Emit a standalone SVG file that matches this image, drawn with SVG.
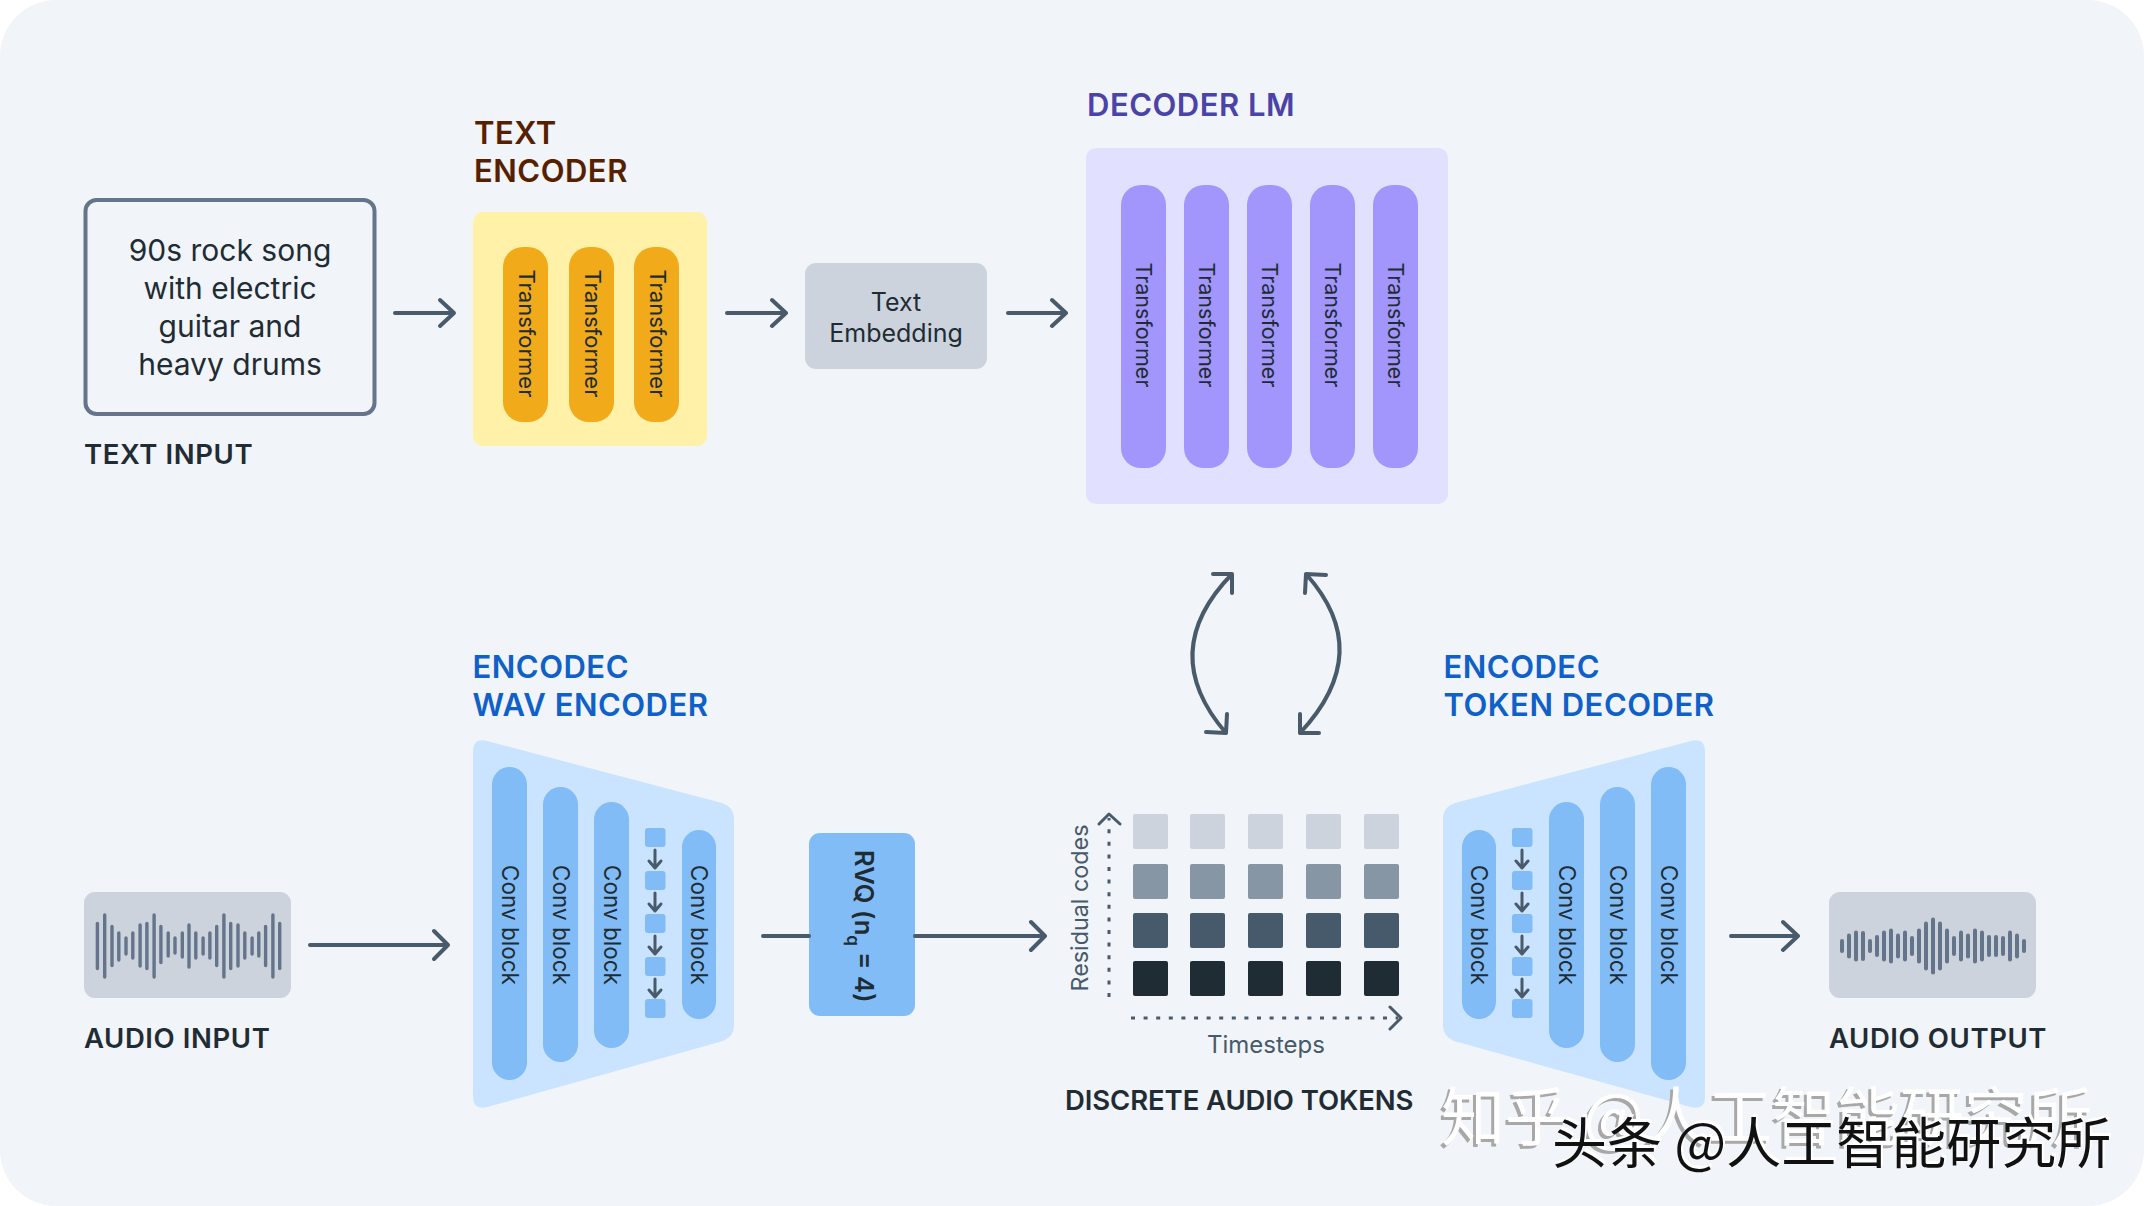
<svg xmlns="http://www.w3.org/2000/svg" width="2144" height="1206" viewBox="0 0 2144 1206">
<defs>
<style>
text{font-family:"Inter","Noto Sans",sans-serif}
.t{font-weight:600;font-size:27.5px;fill:#1f2c34;letter-spacing:.6px}
.h{font-weight:600;font-size:31px;letter-spacing:.5px}
.p{font-size:30px;fill:#1f2c34;text-anchor:middle}
.tf{font-size:22px;fill:#1f2c34;text-anchor:middle}
.tf2{font-size:21.500px;fill:#1f2c34;text-anchor:middle}
.cb{font-size:22.500px;fill:#1f2c34;text-anchor:middle}
.gr{fill:#ccd3dc}
.pill-y{fill:#f0aa1a}
.pill-v{fill:#a295fb}
.pill-b{fill:#82bcf6}
.c{fill:none;stroke:#495a6b;stroke-width:4;stroke-linecap:round;stroke-linejoin:round}
.s{fill:none;stroke:#495a6b;stroke-width:3;stroke-linecap:round;stroke-linejoin:round}
.d{fill:none;stroke:#495a6b;stroke-width:3;stroke-dasharray:4 8.6}
.w{stroke:#64748a;stroke-width:3.400;stroke-linecap:round}
.w2{stroke:#64748a;stroke-width:4;stroke-linecap:round}
.m{font-family:"Noto Sans CJK SC",sans-serif}
</style>
</defs>
<rect width="2144" height="1206" fill="#ffffff"/>
<rect width="2144" height="1206" rx="56" fill="#f1f4f8"/>

<g id="text-input">
<rect x="85.500" y="200" width="289" height="214" rx="11" fill="none" stroke="#64748a" stroke-width="4"/>
<text class="p" x="230" y="261">90s rock song</text>
<text class="p" x="230" y="299">with electric</text>
<text class="p" x="230" y="337">guitar and</text>
<text class="p" x="230" y="375">heavy drums</text>
<text class="t" x="84" y="464">TEXT INPUT</text>
</g>

<g id="text-encoder">
<text class="h" x="474" y="144" fill="#561f00">TEXT</text>
<text class="h" x="474" y="182" fill="#561f00">ENCODER</text>
<rect x="473" y="212" width="234" height="234" rx="10" fill="#fff1a8"/>
<rect class="pill-y" x="503" y="247" width="45" height="175" rx="20"/>
<rect class="pill-y" x="569" y="247" width="45" height="175" rx="20"/>
<rect class="pill-y" x="634" y="247" width="45" height="175" rx="20"/>
<text class="tf" transform="translate(526.500,333.500) rotate(90)" y="8">Transformer</text>
<text class="tf" transform="translate(592.500,333.500) rotate(90)" y="8">Transformer</text>
<text class="tf" transform="translate(657.500,333.500) rotate(90)" y="8">Transformer</text>
</g>

<g id="text-embedding">
<rect class="gr" x="805" y="263" width="182" height="106" rx="11"/>
<text x="896" y="311" font-size="25" fill="#1f2c34" text-anchor="middle">Text</text>
<text x="896" y="342" font-size="25" fill="#1f2c34" text-anchor="middle">Embedding</text>
</g>

<g id="decoder-lm">
<text class="h" x="1087" y="116" fill="#4a43a8">DECODER LM</text>
<rect x="1086" y="148" width="362" height="356" rx="10" fill="#e2e0ff"/>
<rect class="pill-v" x="1121" y="185" width="45" height="283" rx="20"/>
<rect class="pill-v" x="1184" y="185" width="45" height="283" rx="20"/>
<rect class="pill-v" x="1247" y="185" width="45" height="283" rx="20"/>
<rect class="pill-v" x="1310" y="185" width="45" height="283" rx="20"/>
<rect class="pill-v" x="1373" y="185" width="45" height="283" rx="20"/>
<text class="tf2" transform="translate(1144,325) rotate(90)" y="8">Transformer</text>
<text class="tf2" transform="translate(1207,325) rotate(90)" y="8">Transformer</text>
<text class="tf2" transform="translate(1270,325) rotate(90)" y="8">Transformer</text>
<text class="tf2" transform="translate(1333,325) rotate(90)" y="8">Transformer</text>
<text class="tf2" transform="translate(1396,325) rotate(90)" y="8">Transformer</text>
</g>

<g id="audio-input">
<rect class="gr" x="84" y="892" width="207" height="106" rx="11"/>
<g class="w">
<line x1="97.400" y1="923.500" x2="97.400" y2="968.500"/><line x1="104.700" y1="915" x2="104.700" y2="977"/><line x1="112" y1="926.500" x2="112" y2="965.500"/><line x1="118.800" y1="933" x2="118.800" y2="960"/><line x1="126" y1="938" x2="126" y2="954"/><line x1="132.800" y1="933" x2="132.800" y2="958"/><line x1="140.100" y1="925" x2="140.100" y2="966"/><line x1="146.900" y1="923.500" x2="146.900" y2="968.500"/><line x1="154.100" y1="915" x2="154.100" y2="977"/><line x1="160.900" y1="926.500" x2="160.900" y2="962.500"/><line x1="168.200" y1="933" x2="168.200" y2="956"/><line x1="175" y1="938" x2="175" y2="953"/><line x1="182.300" y1="933" x2="182.300" y2="957"/><line x1="189" y1="925" x2="189" y2="967"/><line x1="195.800" y1="933" x2="195.800" y2="958"/><line x1="203.100" y1="938" x2="203.100" y2="954"/><line x1="209.900" y1="933" x2="209.900" y2="958"/><line x1="216.700" y1="926.500" x2="216.700" y2="965.500"/><line x1="223.900" y1="915" x2="223.900" y2="977"/><line x1="230.700" y1="923.500" x2="230.700" y2="968.500"/><line x1="238" y1="925" x2="238" y2="966"/><line x1="244.800" y1="933" x2="244.800" y2="958"/><line x1="252.100" y1="938" x2="252.100" y2="954"/><line x1="258.800" y1="933" x2="258.800" y2="956"/><line x1="265.600" y1="926.500" x2="265.600" y2="965.500"/><line x1="272.900" y1="915" x2="272.900" y2="977"/><line x1="279.700" y1="923.500" x2="279.700" y2="968.500"/>
</g>
<text class="t" x="84" y="1048">AUDIO INPUT</text>
</g>

<g id="encodec-wav-encoder">
<text class="h" x="472.500" y="678" fill="#0f60c8">ENCODEC</text>
<text class="h" x="472.500" y="716" fill="#0f60c8">WAV ENCODER</text>
<path d="M473 752Q473 737 487 741L722 803Q734 807 734 819V1026Q734 1036 723 1041L491 1106Q473 1112 473 1097Z" fill="#cae4ff"/>
<rect class="pill-b" x="492" y="767" width="35" height="313" rx="17.500"/>
<rect class="pill-b" x="543" y="787" width="35" height="275" rx="17.500"/>
<rect class="pill-b" x="594" y="802" width="35" height="246" rx="17.500"/>
<rect class="pill-b" x="682" y="830" width="34" height="189" rx="17"/>
<rect class="pill-b" x="645" y="828" width="20.500" height="19" rx="3"/>
<rect class="pill-b" x="645" y="871" width="20.500" height="19" rx="3"/>
<rect class="pill-b" x="645" y="914" width="20.500" height="19" rx="3"/>
<rect class="pill-b" x="645" y="957" width="20.500" height="19" rx="3"/>
<rect class="pill-b" x="645" y="999" width="20.500" height="19" rx="3"/>
<path class="s" d="M655 850V868M649 861L655 868L661 861M655 893V911M649 904L655 911L661 904M655 936V954M649 947L655 954L661 947M655 979V997M649 990L655 997L661 990"/>
<text class="cb" transform="translate(509.500,925) rotate(90)" y="8">Conv block</text>
<text class="cb" transform="translate(560.500,925) rotate(90)" y="8">Conv block</text>
<text class="cb" transform="translate(611.500,925) rotate(90)" y="8">Conv block</text>
<text class="cb" transform="translate(699,925) rotate(90)" y="8">Conv block</text>
</g>

<g id="rvq">
<rect class="pill-b" x="809" y="833" width="106" height="183" rx="11"/>
<text transform="translate(855,850) rotate(90)" font-size="25.500" font-weight="600" fill="#1f2c34">RVQ (n<tspan font-size="17" dy="8">q</tspan><tspan dy="-8"> = 4)</tspan></text>
</g>

<g id="discrete-audio-tokens">
<g class="gr"><rect x="1133" y="814" width="35" height="35" rx="2"/><rect x="1190" y="814" width="35" height="35" rx="2"/><rect x="1248" y="814" width="35" height="35" rx="2"/><rect x="1306" y="814" width="35" height="35" rx="2"/><rect x="1364" y="814" width="35" height="35" rx="2"/></g>
<g fill="#8696a5"><rect x="1133" y="864" width="35" height="35" rx="2"/><rect x="1190" y="864" width="35" height="35" rx="2"/><rect x="1248" y="864" width="35" height="35" rx="2"/><rect x="1306" y="864" width="35" height="35" rx="2"/><rect x="1364" y="864" width="35" height="35" rx="2"/></g>
<g fill="#475a6b"><rect x="1133" y="913" width="35" height="35" rx="2"/><rect x="1190" y="913" width="35" height="35" rx="2"/><rect x="1248" y="913" width="35" height="35" rx="2"/><rect x="1306" y="913" width="35" height="35" rx="2"/><rect x="1364" y="913" width="35" height="35" rx="2"/></g>
<g fill="#1f2c34"><rect x="1133" y="961" width="35" height="35" rx="2"/><rect x="1190" y="961" width="35" height="35" rx="2"/><rect x="1248" y="961" width="35" height="35" rx="2"/><rect x="1306" y="961" width="35" height="35" rx="2"/><rect x="1364" y="961" width="35" height="35" rx="2"/></g>
<path class="d" d="M1109 997V818"/>
<path class="s" d="M1099 824L1109 814L1120 824"/>
<path class="d" d="M1131 1018H1398"/>
<path class="s" d="M1390 1007L1401 1018L1390 1029"/>
<text transform="translate(1088,908) rotate(-90)" font-size="23.300" fill="#475a6b" text-anchor="middle">Residual codes</text>
<text x="1266" y="1053" font-size="24" fill="#475a6b" text-anchor="middle">Timesteps</text>
<text class="t" x="1065" y="1110" style="letter-spacing:-.1px">DISCRETE AUDIO TOKENS</text>
</g>

<g id="encodec-token-decoder">
<text class="h" x="1443.500" y="678" fill="#0f60c8">ENCODEC</text>
<text class="h" x="1443.500" y="716" fill="#0f60c8">TOKEN DECODER</text>
<path d="M1705 752Q1705 737 1691 741L1455 803Q1443 807 1443 819V1026Q1443 1036 1454 1041L1687 1106Q1705 1112 1705 1097Z" fill="#cae4ff"/>
<rect class="pill-b" x="1462" y="830" width="34" height="189" rx="17"/>
<rect class="pill-b" x="1549" y="802" width="35" height="246" rx="17.500"/>
<rect class="pill-b" x="1600" y="787" width="35" height="275" rx="17.500"/>
<rect class="pill-b" x="1651" y="767" width="35" height="313" rx="17.500"/>
<rect class="pill-b" x="1512" y="828" width="20.500" height="19" rx="3"/>
<rect class="pill-b" x="1512" y="871" width="20.500" height="19" rx="3"/>
<rect class="pill-b" x="1512" y="914" width="20.500" height="19" rx="3"/>
<rect class="pill-b" x="1512" y="957" width="20.500" height="19" rx="3"/>
<rect class="pill-b" x="1512" y="999" width="20.500" height="19" rx="3"/>
<path class="s" d="M1522 850V868M1516 861L1522 868L1528 861M1522 893V911M1516 904L1522 911L1528 904M1522 936V954M1516 947L1522 954L1528 947M1522 979V997M1516 990L1522 997L1528 990"/>
<text class="cb" transform="translate(1479,925) rotate(90)" y="8">Conv block</text>
<text class="cb" transform="translate(1566.500,925) rotate(90)" y="8">Conv block</text>
<text class="cb" transform="translate(1617.500,925) rotate(90)" y="8">Conv block</text>
<text class="cb" transform="translate(1668.500,925) rotate(90)" y="8">Conv block</text>
</g>

<g id="audio-output">
<rect class="gr" x="1829" y="892" width="207" height="106" rx="11"/>
<g class="w2">
<line x1="1842" y1="941" x2="1842" y2="951"/><line x1="1849" y1="935.500" x2="1849" y2="956.500"/><line x1="1856" y1="932.500" x2="1856" y2="959.500"/><line x1="1863" y1="933" x2="1863" y2="959"/><line x1="1870" y1="941" x2="1870" y2="951"/><line x1="1877" y1="937" x2="1877" y2="955"/><line x1="1884" y1="932.500" x2="1884" y2="959.500"/><line x1="1891" y1="930.500" x2="1891" y2="961.500"/><line x1="1898" y1="935.500" x2="1898" y2="956.500"/><line x1="1905" y1="932.500" x2="1905" y2="959.500"/><line x1="1912" y1="938" x2="1912" y2="954"/><line x1="1919" y1="930.500" x2="1919" y2="961.500"/><line x1="1926" y1="923.500" x2="1926" y2="968.500"/><line x1="1933" y1="919.500" x2="1933" y2="972.500"/><line x1="1940" y1="923.500" x2="1940" y2="968.500"/><line x1="1947" y1="930.500" x2="1947" y2="961.500"/><line x1="1954" y1="938" x2="1954" y2="954"/><line x1="1961" y1="932.500" x2="1961" y2="959.500"/><line x1="1968" y1="935.500" x2="1968" y2="956.500"/><line x1="1975" y1="930.500" x2="1975" y2="961.500"/><line x1="1982" y1="932.500" x2="1982" y2="959.500"/><line x1="1989" y1="937" x2="1989" y2="955"/><line x1="1996" y1="937" x2="1996" y2="955"/><line x1="2003" y1="938" x2="2003" y2="954"/><line x1="2010" y1="932.500" x2="2010" y2="959.500"/><line x1="2017" y1="935.500" x2="2017" y2="956.500"/><line x1="2024" y1="941" x2="2024" y2="951"/>
</g>
<text class="t" x="1829" y="1048">AUDIO OUTPUT</text>
</g>

<g id="connectors">
<path class="c" d="M395 313H453M440 300L454 313L440 326"/>
<path class="c" d="M727 313H785M772 300L786 313L772 326"/>
<path class="c" d="M1008 313H1065M1052 300L1066 313L1052 326"/>
<path class="c" d="M310 945H447M434 931L448 945L434 959"/>
<path class="c" d="M763 936H809M915 936H1044M1031 922L1045 936L1031 950"/>
<path class="c" d="M1731 936H1797M1783 922L1798 936L1783 950"/>
<path class="c" d="M1232 574Q1156 652 1226 733M1213 574H1232V593M1206 732L1226 733L1227 714"/>
<path class="c" d="M1306 574Q1376 652 1300 733M1326 575L1306 574L1305 593M1319 733H1300V714"/>
</g>

<g id="watermark">
<text class="m" x="1438" y="1143" font-size="64" fill="#a8a8a8">知乎 @人工智能研究所</text>
<text class="m" x="1441" y="1140" font-size="64" fill="#ffffff">知乎 @人工智能研究所</text>
<text class="m" x="1554" y="1160" font-size="55" fill="#ffffff">头条 @人工智能研究所</text>
<text class="m" x="1552" y="1163" font-size="55" fill="#111111">头条 @人工智能研究所</text>
</g>
</svg>
